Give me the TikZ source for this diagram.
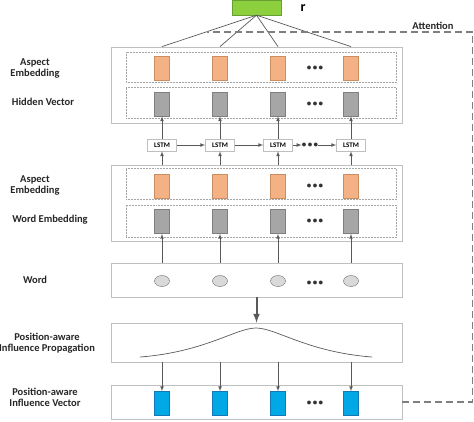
\documentclass[tikz,border=0pt]{standalone}
\usepackage{fontspec}
\setmainfont{Carlito}
\usetikzlibrary{shapes.geometric}
\definecolor{boxline}{HTML}{BFBFBF}
\definecolor{laneline}{HTML}{A6A6A6}
\definecolor{darkline}{HTML}{595959}
\definecolor{orangefill}{HTML}{F4B183}
\definecolor{orangeline}{HTML}{C98E62}
\definecolor{grayfill}{HTML}{A6A6A6}
\definecolor{grayline}{HTML}{7F7F7F}
\definecolor{bluefill}{HTML}{00A9E6}
\definecolor{blueline}{HTML}{1478B4}
\definecolor{greenfill}{HTML}{8DD03E}
\definecolor{greenline}{HTML}{6A9F33}
\definecolor{dotfill}{HTML}{D9D9D9}

\begin{document}
\begin{tikzpicture}[x=1pt, y=-1pt, >=latex,
            box/.style={draw=boxline, line width=0.8pt, minimum width=291pt, inner sep=0},
            lane/.style={draw=laneline, densely dotted, line width=0.5pt, minimum width=270pt, inner sep=0},
            vec/.style={line width=0.6pt, minimum width=15pt, minimum height=24pt, inner sep=0},
            aspvec/.style={vec, draw=orangeline, fill=orangefill},
            hidvec/.style={vec, draw=grayline, fill=grayfill},
            inflvec/.style={vec, draw=blueline, fill=bluefill},
            wordvec/.style={ellipse, draw=grayline, fill=dotfill, line width=0.5pt,
                            minimum width=15pt, minimum height=11pt, inner sep=0},
            lstm/.style={draw=boxline, fill=white, line width=0.6pt, minimum width=29pt,
                         minimum height=12pt, inner sep=0, font=\bfseries\fontsize{7}{7}\selectfont},
            lbl/.style={align=center, text=black!85, font=\bfseries\fontsize{10.5}{11}\selectfont},
            dots/.style={inner sep=0, text=black!80, font=\bfseries\fontsize{9}{9}\selectfont},
            conn/.style={draw=darkline, line width=0.7pt}]
        \useasboundingbox (0,0) rectangle (474,421);

        \node (g) [draw=greenline, fill=greenfill, minimum width=49pt, minimum height=15pt, inner sep=0] at (256.5,7.5) {};
        \node (rl) [font=\bfseries\fontsize{14}{14}\selectfont] at (303,8) {r};
        \node (attn) [lbl] at (433,26) {Attention};

        \node (up)   [box, minimum height=76pt] at (256.5,85) {};
        \node (asp)  [lane, minimum height=30pt] at (261,67) {};
        \node (hid)  [lane, minimum height=31pt] at (261,102.5) {};
        \node (down) [box, minimum height=76pt] at (256.5,203) {};
        \node (asp2) [lane, minimum height=31pt] at (261,183.5) {};
        \node (wemb) [lane, minimum height=32pt] at (261,221) {};
        \node (word) [box, minimum height=34pt] at (256.5,280) {};
        \node (prop) [box, minimum height=39pt] at (256.5,342.5) {};
        \node (infl) [box, minimum height=34pt] at (256.5,402) {};

        \node (a1) [aspvec] at (162,68) {};
        \node (a2) [aspvec] at (220,68) {};
        \node (a3) [aspvec] at (278,68) {};
        \node (a4) [aspvec] at (351,68) {};
        \node (da) [dots] at (315,68) {\textbullet\,\textbullet\,\textbullet};

        \node (h1) [hidvec] at (162,104) {};
        \node (h2) [hidvec] at (220,104) {};
        \node (h3) [hidvec] at (278,104) {};
        \node (h4) [hidvec] at (351,104) {};
        \node (dh) [dots] at (315,104) {\textbullet\,\textbullet\,\textbullet};

        \node (l1) [lstm] at (162,145) {LSTM};
        \node (l2) [lstm] at (220,145) {LSTM};
        \node (l3) [lstm] at (278,145) {LSTM};
        \node (l4) [lstm] at (351,145) {LSTM};
        \node (dl) [dots] at (310,145) {\textbullet\,\textbullet\,\textbullet};

        \node (b1) [aspvec] at (162,186) {};
        \node (b2) [aspvec] at (220,186) {};
        \node (b3) [aspvec] at (278,186) {};
        \node (b4) [aspvec] at (351,186) {};
        \node (db) [dots] at (315,186) {\textbullet\,\textbullet\,\textbullet};

        \node (e1) [hidvec] at (162,221.5) {};
        \node (e2) [hidvec] at (220,221.5) {};
        \node (e3) [hidvec] at (278,221.5) {};
        \node (e4) [hidvec] at (351,221.5) {};
        \node (de) [dots] at (315,221.5) {\textbullet\,\textbullet\,\textbullet};

        \node (w1) [wordvec] at (162,281) {};
        \node (w2) [wordvec] at (220,281) {};
        \node (w3) [wordvec] at (278,281) {};
        \node (w4) [wordvec] at (351,281) {};
        \node (dw) [dots] at (315,283) {\textbullet\,\textbullet\,\textbullet};

        \node (v1) [inflvec] at (162,403.5) {};
        \node (v2) [inflvec] at (220,403.5) {};
        \node (v3) [inflvec] at (278,403.5) {};
        \node (v4) [inflvec] at (351,403.5) {};
        \node (dv) [dots] at (315,403.5) {\textbullet\,\textbullet\,\textbullet};

        \node [lbl] at (35,68) {Aspect\\Embedding};
        \node [lbl] at (43,102) {Hidden Vector};
        \node [lbl] at (35,185) {Aspect\\Embedding};
        \node [lbl] at (50,220) {Word Embedding};
        \node [lbl] at (35,280) {Word};
        \node [lbl] at (47,343) {Position-aware\\Influence Propagation};
        \node [lbl] at (45,397) {Position-aware\\Influence Vector};

        \draw [conn] (g.south) -- (a1 |- up.north);
        \draw [conn] (g.south) -- (a2 |- up.north);
        \draw [conn] (g.south) -- (a3 |- up.north);
        \draw [conn] (g.south) -- (a4 |- up.north);

        \draw [conn, ->] (l1) -- (h1);
        \draw [conn, ->] (l2) -- (h2);
        \draw [conn, ->] (l3) -- (h3);
        \draw [conn, ->] (l4) -- (h4);
        \draw [conn, ->] (b1 |- down.north) -- (l1);
        \draw [conn, ->] (b2 |- down.north) -- (l2);
        \draw [conn, ->] (b3 |- down.north) -- (l3);
        \draw [conn, ->] (b4 |- down.north) -- (l4);
        \draw [conn, ->] (l1) -- (l2);
        \draw [conn, ->] (l2) -- (l3);
        \draw [conn, ->] (l3) -- (dl);
        \draw [conn, ->] (dl) -- (l4);

        \draw [conn, ->] (w1 |- word.north) -- (e1);
        \draw [conn, ->] (w2 |- word.north) -- (e2);
        \draw [conn, ->] (w3 |- word.north) -- (e3);
        \draw [conn, ->] (w4 |- word.north) -- (e4);

        \draw [darkline, line width=2pt, ->] (word.south) -- (prop.north);
        \draw [conn] (140,357) .. controls (205,352) and (236,328) .. (256,328)
                               .. controls (276,328) and (307,352) .. (372,357);

        \draw [conn, ->] (v1 |- prop.south) -- (v1);
        \draw [conn, ->] (v2 |- prop.south) -- (v2);
        \draw [conn, ->] (v3 |- prop.south) -- (v3);
        \draw [conn, ->] (v4 |- prop.south) -- (v4);

        \coordinate (att) at (207,32);
        \coordinate (ne) at (472.5,32);
        \coordinate (se) at (472.5,402);
        \draw [grayline, line width=1.1pt, dash pattern=on 7pt off 4pt] (infl.east) -- (se) -- (ne) -- (att);
    \end{tikzpicture}
\end{document}
